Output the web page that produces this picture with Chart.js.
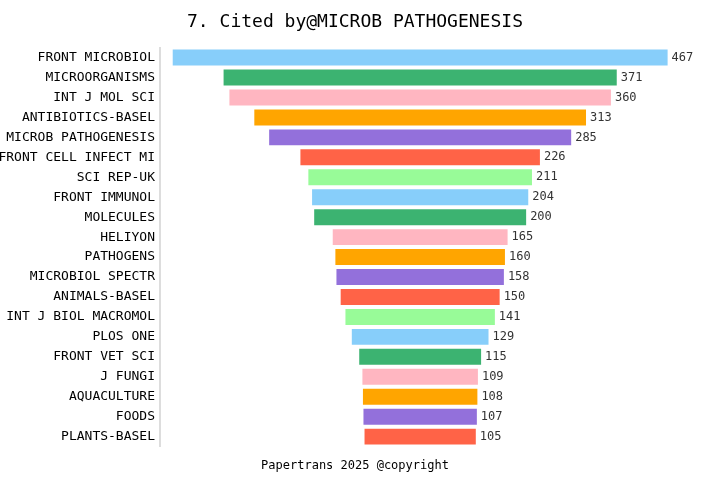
<!DOCTYPE html>
<html>
<head>
<meta charset="utf-8">
<script src="https://cdn.jsdelivr.net/npm/chart.js@4"></script>
<style>
  html, body { margin: 0; padding: 0; background: #fff; }
  #wrap { width: 720px; height: 480px; }
</style>
</head>
<body>
<div id="wrap"><canvas id="chart"></canvas></div>
<script>
// journals citing MICROB PATHOGENESIS
const journals = [
    'FRONT MICROBIOL', 'MICROORGANISMS', 'INT J MOL SCI', 'ANTIBIOTICS-BASEL',
    'MICROB PATHOGENESIS', 'FRONT CELL INFECT MI', 'SCI REP-UK', 'FRONT IMMUNOL',
    'MOLECULES', 'HELIYON', 'PATHOGENS', 'MICROBIOL SPECTR', 'ANIMALS-BASEL',
    'INT J BIOL MACROMOL', 'PLOS ONE', 'FRONT VET SCI', 'J FUNGI', 'AQUACULTURE',
    'FOODS', 'PLANTS-BASEL'
];
const citations = [467, 371, 360, 313, 285, 226, 211, 204, 200, 165, 160, 158, 150, 141, 129, 115, 109, 108, 107, 105];
const palette = ['#87CEFA', '#3CB371', '#FFB6C1', '#FFA500', '#9370DB', '#FF6347', '#98FB98'];

const FONT = "'DejaVu Sans Mono', monospace";
const maxCites = Math.max(...citations);

// centred bars, funnel style
const spans = citations.map(v => [(maxCites - v) / 2, (maxCites + v) / 2]);

const valueLabels = {
    id: 'valueLabels',
    afterDatasetsDraw(chart) {
        const ctx = chart.ctx;
        const meta = chart.getDatasetMeta(0);
        ctx.save();
        ctx.font = '12px ' + FONT;
        ctx.fillStyle = '#333';
        ctx.textAlign = 'left';
        ctx.textBaseline = 'middle';
        meta.data.forEach((bar, i) => {
            ctx.fillText(String(citations[i]), bar.x + 4, bar.y);
        });
        ctx.restore();
    }
};

new Chart(document.getElementById('chart').getContext('2d'), {
    type: 'bar',
    data: {
        labels: journals,
        datasets: [{
            data: spans,
            backgroundColor: journals.map((_, i) => palette[i % palette.length]),
            borderWidth: 0,
            borderSkipped: false,
            barPercentage: 0.8,
            categoryPercentage: 1.0
        }]
    },
    options: {
        indexAxis: 'y',
        responsive: true,
        maintainAspectRatio: false,
        animation: false,
        layout: { padding: { left: 0, right: 10, top: 0, bottom: 0 } },
        plugins: {
            legend: { display: false },
            tooltip: { enabled: false },
            title: {
                display: true,
                text: '7. Cited by@MICROB PATHOGENESIS',
                color: '#000',
                font: { family: FONT, size: 18, weight: 'normal' },
                padding: { top: 12, bottom: 14 }
            },
            subtitle: {
                display: true,
                position: 'bottom',
                text: 'Papertrans 2025 @copyright',
                color: '#000',
                font: { family: FONT, size: 12, weight: 'normal' },
                padding: { top: 12, bottom: 7 }
            }
        },
        scales: {
            x: {
                display: false,
                min: -12,
                max: 507
            },
            y: {
                afterFit(scale) { scale.width = 160; },
                grid: { display: false, drawTicks: false },
                border: { display: true, color: '#dddddd', width: 2 },
                ticks: {
                    color: '#000',
                    padding: 5,
                    font: { family: FONT, size: 13 }
                }
            }
        }
    },
    plugins: [valueLabels]
});
</script>
</body>
</html>
